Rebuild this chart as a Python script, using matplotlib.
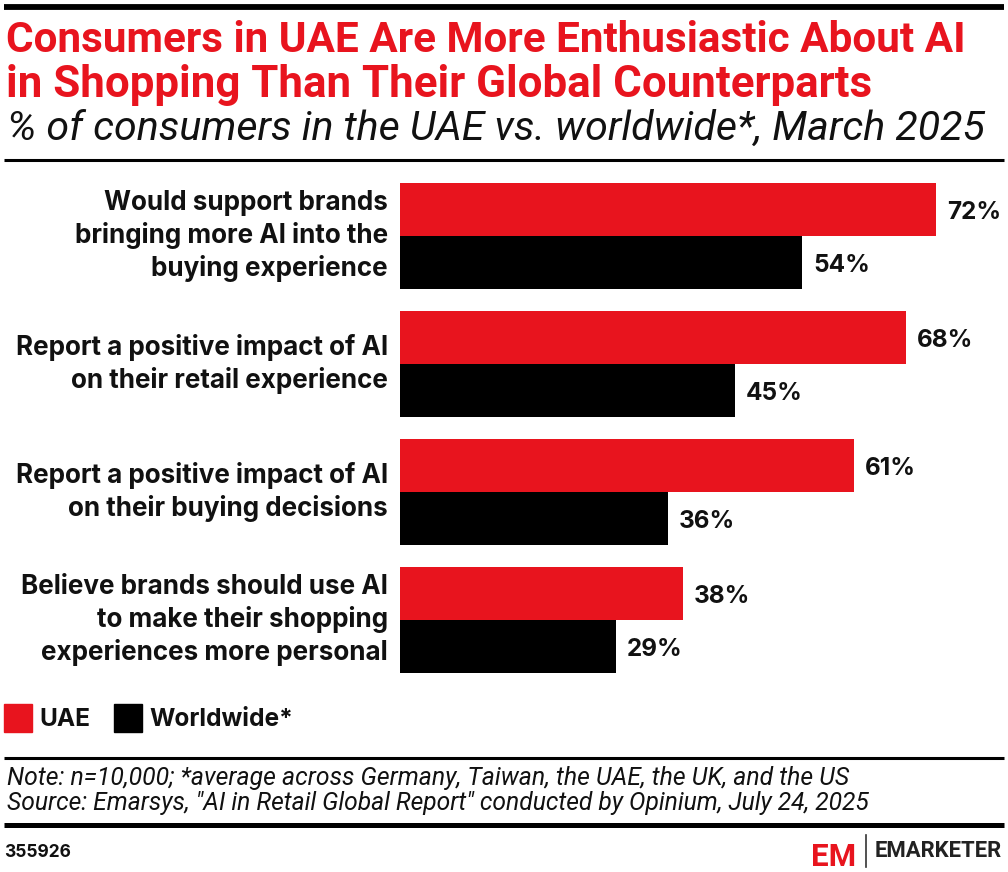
import matplotlib
matplotlib.use("Agg")
import matplotlib.pyplot as plt
from matplotlib import font_manager
from matplotlib.lines import Line2D
from matplotlib.patches import Rectangle
from matplotlib.transforms import offset_copy

# ---------------- data ----------------
categories = [
    "Would support brands\nbringing more AI into the\nbuying experience",
    "Report a positive impact of AI\non their retail experience",
    "Report a positive impact of AI\non their buying decisions",
    "Believe brands should use AI\nto make their shopping\nexperiences more personal",
]
uae = [72, 68, 61, 38]
worldwide = [54, 45, 36, 29]
series_names = ["UAE", "Worldwide*"]

title_lines = ["Consumers in UAE Are More Enthusiastic About AI",
               "in Shopping Than Their Global Counterparts"]
subtitle = "% of consumers in the UAE vs. worldwide*, March 2025"
note = "Note: n=10,000; *average across Germany, Taiwan, the UAE, the UK, and the US"
source = 'Source: Emarsys, "AI in Retail Global Report" conducted by Opinium, July 24, 2025'
chart_id = "355926"

RED = "#E8141E"
BLACK = "#000000"
TXT = "#111111"

names = {f.name for f in font_manager.fontManager.ttflist}
TITLE_FONT = "Liberation Sans Narrow" if "Liberation Sans Narrow" in names else "Roboto"
BODY_FONT = "Roboto" if "Roboto" in names else "DejaVu Sans"
LABEL_FONT = "Inter" if "Inter" in names else BODY_FONT

W, H = 1008, 872
fig = plt.figure(figsize=(W / 100, H / 100), dpi=100)
renderer = fig.canvas.get_renderer()


def fy(py):
    return 1 - py / H


def fx(px):
    return px / W


def ptext(x, y, s, fit_w=None, **kw):
    t = fig.text(fx(x), fy(y), s, **kw)
    if fit_w is not None:
        w = t.get_window_extent(renderer).width
        t.set_fontsize(t.get_fontsize() * fit_w / w)
    return t


def fitted_size(s, target_w, **kw):
    t = fig.text(0, 0, s, fontsize=20, **kw)
    w = t.get_window_extent(renderer).width
    t.remove()
    return 20 * target_w / w


def hline(y, lw, x0=4, x1=1004):
    fig.add_artist(Line2D([fx(x0), fx(x1)], [fy(y), fy(y)], color="black",
                          lw=lw, transform=fig.transFigure, solid_capstyle="butt"))


# rules
hline(7, 4.2)
hline(160, 2.2)
hline(758, 2.2)
hline(824.5, 3.6)

# title
ptext(6, 52, title_lines[0], fit_w=959, color=RED, fontfamily=TITLE_FONT,
      fontweight="bold", fontsize=30, va="baseline")
ptext(6, 97, title_lines[1], fit_w=864, color=RED, fontfamily=TITLE_FONT,
      fontweight="bold", fontsize=30, va="baseline")
ptext(7, 140, subtitle, fit_w=978, color=TXT, fontfamily=BODY_FONT,
      fontweight="normal", fontstyle="italic", fontsize=25, va="baseline")

# ---------------- bars ----------------
px_per_pct = (936 - 400) / 72.0
ax_left, ax_right, ax_top, ax_bot = 400, 1008, 183, 673
ax = fig.add_axes([fx(ax_left), fy(ax_bot), fx(ax_right - ax_left), (ax_bot - ax_top) / H])
h = 53 / 128.0
n = len(categories)
ys = list(range(n))
ax.barh([y - h / 2 for y in ys], uae, height=h, color=RED, edgecolor="none")
ax.barh([y + h / 2 for y in ys], worldwide, height=h, color=BLACK, edgecolor="none")
ax.set_xlim(0, (ax_right - ax_left) / px_per_pct)
ax.set_ylim(n - 1 + h, -h)
ax.axis("off")

val_size = fitted_size("72%", 54, fontfamily=LABEL_FONT, fontweight="bold")
lbl_tr = offset_copy(ax.transData, fig=fig, x=11, y=-9.5, units="dots")
for y, v in zip(ys, uae):
    ax.text(v, y - h / 2, f"{v}%", transform=lbl_tr, fontfamily=LABEL_FONT,
            fontweight="bold", fontsize=val_size, va="baseline", ha="left", color=TXT)
for y, v in zip(ys, worldwide):
    ax.text(v, y + h / 2, f"{v}%", transform=lbl_tr, fontfamily=LABEL_FONT,
            fontweight="bold", fontsize=val_size, va="baseline", ha="left", color=TXT)

# category labels (each line placed individually)
cat_size = fitted_size("Report a positive impact of AI", 373,
                       fontfamily=LABEL_FONT, fontweight="bold")
group_centers_px = [ax_top + (y + h) * 128 for y in ys]
line_gap = 33
for c, cat in zip(group_centers_px, categories):
    lines = cat.split("\n")
    k = len(lines)
    for i, ln in enumerate(lines):
        cy = c - 2 + (i - (k - 1) / 2) * line_gap
        ptext(388, cy + 9, ln, color=TXT, fontfamily=LABEL_FONT,
              fontweight="bold", fontsize=cat_size, ha="right", va="baseline")

# ---------------- legend ----------------
leg_size = fitted_size(series_names[1], 144, fontfamily=LABEL_FONT, fontweight="bold")
fig.add_artist(Rectangle((fx(4), fy(732)), fx(28), 28 / H, color=RED,
                         transform=fig.transFigure))
ptext(39, 726, series_names[0], color=TXT, fontfamily=LABEL_FONT,
      fontweight="bold", fontsize=leg_size, va="baseline")
fig.add_artist(Rectangle((fx(114), fy(732)), fx(28), 28 / H, color=BLACK,
                         transform=fig.transFigure))
ptext(149, 726, series_names[1], color=TXT, fontfamily=LABEL_FONT,
      fontweight="bold", fontsize=leg_size, va="baseline")

# ---------------- footer ----------------
ptext(7, 785, note, fit_w=843, color=TXT, fontfamily=BODY_FONT,
      fontweight="normal", fontstyle="italic", fontsize=14, va="baseline")
ptext(7, 810, source, fit_w=864, color=TXT, fontfamily=BODY_FONT,
      fontweight="normal", fontstyle="italic", fontsize=14, va="baseline")
ptext(4, 857, chart_id, fit_w=67, color=TXT, fontfamily=LABEL_FONT,
      fontweight="bold", fontsize=13, va="baseline")

# logo
ptext(811, 866, "EM", fit_w=45, color=RED, fontfamily=TITLE_FONT,
      fontweight="bold", fontsize=26, va="baseline")
fig.add_artist(Line2D([fx(866), fx(866)], [fy(835), fy(867)], color="#333333",
                      lw=1.2, transform=fig.transFigure))
ptext(875, 857, "EMARKETER", fit_w=128, color="#222222", fontfamily=BODY_FONT,
      fontweight="bold", fontsize=14, va="baseline")

fig.savefig("out.png", dpi=100)
